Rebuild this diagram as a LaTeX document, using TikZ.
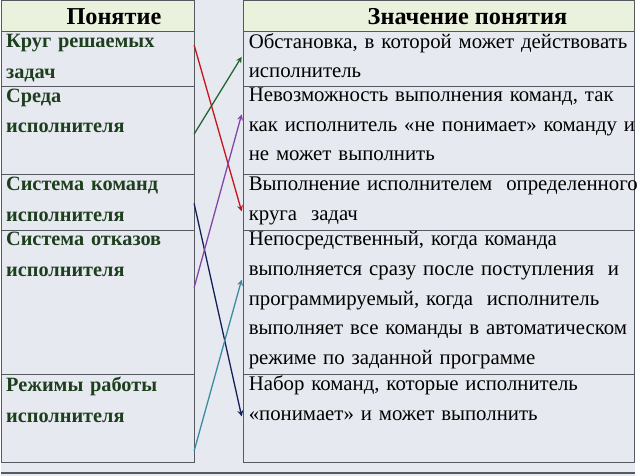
\documentclass[tikz,border=0pt]{standalone}
\usepackage{fontspec}
\usetikzlibrary{arrows.meta}
\setmainfont{Liberation Serif}
\definecolor{bg}{HTML}{E6E9EF}
\definecolor{hd}{HTML}{EAF1DD}
\definecolor{lt}{HTML}{1E3F1E}
\definecolor{ln}{HTML}{555A60}
\begin{document}
\begin{tikzpicture}[x=1pt,y=-1pt,
 cell/.style={draw=ln,line width=0.8pt},
 lefttxt/.style={anchor=north west,align=left,text width=190pt,font=\fontsize{20.5}{31}\selectfont\bfseries,text=lt,inner sep=0pt},
 righttxt/.style={anchor=north west,align=left,text width=395pt,font=\fontsize{21}{30}\selectfont,inner sep=0pt},
 arr/.style={line width=1.3pt,-{Stealth[open,length=6pt,width=6pt]}}]
\fill[bg] (0,0) rectangle (640,480);
\draw[ln,line width=2pt] (0,477) -- (640,477);
\fill[hd] (0,0) rectangle (195,31);
\fill[hd] (245,0) rectangle (640,31);
\foreach \a/\b in {0/31,31/87,87/176,176/232,232/378,378/466}{
 \draw[cell] (0,\a) rectangle (195,\b);
 \draw[cell] (245,\a) rectangle (640,\b);}
\node[font=\fontsize{24.5}{26}\selectfont\bfseries] (h1) at (114,16) {Понятие};
\node[font=\fontsize{24.5}{26}\selectfont\bfseries] (h2) at (471,16) {Значение понятия};
\node[lefttxt] (l1) at (5,34) {Круг решаемых\\задач};
\node[lefttxt] (l2) at (5,89) {Среда\\исполнителя};
\node[lefttxt] (l3) at (5,178) {Система команд\\исполнителя};
\node[lefttxt] (l4) at (5,234) {Система отказов\\исполнителя};
\node[lefttxt] (l5) at (5,380) {Режимы работы\\исполнителя};
\node[righttxt] (r1) at (250,33) {Обстановка, в которой может действовать\\исполнитель};
\node[righttxt] (r2) at (250,88) {Невозможность выполнения команд, так\\как исполнитель «не понимает» команду и\\не может выполнить};
\node[righttxt] (r3) at (250,178) {Выполнение исполнителем\ \ определенного\\круга\ \ задач};
\node[righttxt] (r4) at (250,233) {Непосредственный, когда команда\\выполняется сразу после поступления\ \ и\\программируемый, когда\ \ исполнитель\\выполняет все команды в автоматическом\\режиме по заданной программе};
\node[righttxt] (r5) at (250,379) {Набор команд, которые исполнитель\\«понимает» и может выполнить};
\coordinate (a1) at (195,45); \coordinate (b1) at (243,213);
\coordinate (a2) at (195,135); \coordinate (b2) at (243,57);
\coordinate (a3) at (195,205); \coordinate (b3) at (243,420);
\coordinate (a4) at (195,290); \coordinate (b4) at (243,115);
\coordinate (a5) at (195,455); \coordinate (b5) at (243,282);
\draw[arr,color={rgb,255:red,200;green,20;blue,30}] (a1) -- (b1);
\draw[arr,color={rgb,255:red,30;green,100;blue,50}] (a2) -- (b2);
\draw[arr,color={rgb,255:red,20;green,30;blue,90}] (a3) -- (b3);
\draw[arr,color={rgb,255:red,130;green,70;blue,170}] (a4) -- (b4);
\draw[arr,color={rgb,255:red,60;green,140;blue,160}] (a5) -- (b5);
\end{tikzpicture}
\end{document}
